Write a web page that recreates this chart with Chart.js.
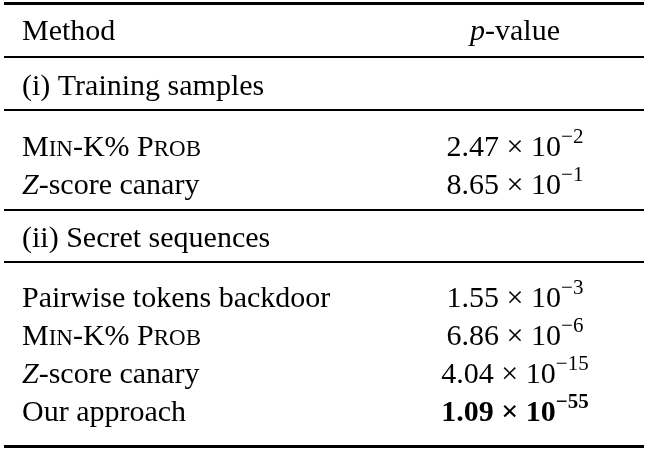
<!DOCTYPE html>
<html><head><script src="https://cdn.jsdelivr.net/npm/chart.js@4"></script>
<style>html,body{margin:0;background:#fff}#c{display:block}</style></head>
<body><div style="width:648px;height:450px"><canvas id="c"></canvas></div>
<script>
const sections = ["(i) Training samples", "(ii) Secret sequences"];
const methods = [["MIN-K% PROB","Z-score canary"],["Pairwise tokens backdoor","MIN-K% PROB","Z-score canary","Our approach"]];
const mantissas = [["2.47","8.65"],["1.55","6.86","4.04","1.09"]];
const exponents = [[-2,-1],[-3,-6,-15,-55]];
const F='"Liberation Serif", "DejaVu Serif", serif';
const S=30, SS=23, SUP=21;
function runs(ctx,x,y,parts){
  let w=0; for(const p of parts){ctx.font=(p[2]||'')+' '+p[1]+'px '+F; w+=ctx.measureText(p[0]).width;}
  if(x===null) return w;
  for(const p of parts){ctx.font=(p[2]||'')+' '+p[1]+'px '+F; ctx.fillText(p[0],x,y+(p[3]||0)); x+=ctx.measureText(p[0]).width;}
  return w;
}
function methodParts(m){
  if(m==="MIN-K% PROB") return [["M",S],["IN",SS],["-K% P",S],["ROB",SS]];
  if(m.startsWith("Z-")) return [["Z",S,"italic"],[m.slice(1),S]];
  return [[m,S]];
}
const plugin={id:'tbl',afterDraw(chart){
  const ctx=chart.ctx; ctx.fillStyle='#000'; ctx.textBaseline='alphabetic';
  const L=4,R=644,X=22,VC=515;
  const rule=(y,w)=>{ctx.fillRect(L,Math.round(y-w/2),R-L,w);};
  rule(3,3); rule(57,2); rule(110,2); rule(210,2); rule(262,2); rule(446,3);
  runs(ctx,X,40,[["Method",S]]);
  const hp=[["p",S,"italic"],["-value",S]]; runs(ctx,VC-runs(ctx,null,0,hp)/2,40,hp);
  const secY=[95,247], rowY=[[156,194],[307,345,383,421]];
  sections.forEach((s,i)=>{
    runs(ctx,X,secY[i],[[s,S]]);
    methods[i].forEach((m,j)=>{
      const y=rowY[i][j];
      runs(ctx,X,y,methodParts(m));
      const b=(i===1&&j===3)?'bold':'';
      const parts=[[mantissas[i][j]+"\u2005\u00d7\u200510",S,b],["\u2212"+Math.abs(exponents[i][j]),SUP,b,-13]];
      runs(ctx,VC-runs(ctx,null,0,parts)/2,y,parts);
    });
  });
}};
new Chart(document.getElementById('c'),{type:'bar',data:{labels:[],datasets:[]},
 options:{responsive:true,maintainAspectRatio:false,animation:false,plugins:{legend:{display:false},tooltip:{enabled:false}},
 scales:{x:{display:false},y:{display:false}}},plugins:[plugin]});
</script></body></html>
